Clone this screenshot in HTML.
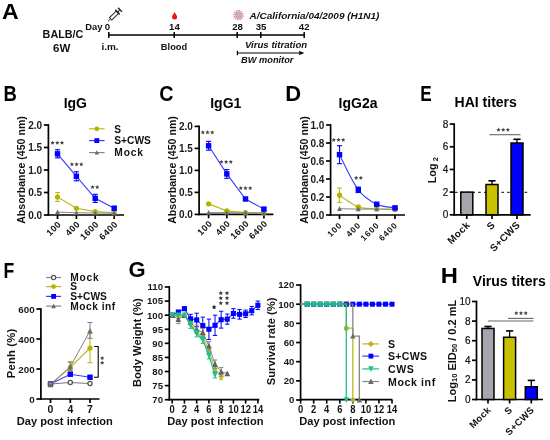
<!DOCTYPE html>
<html><head><meta charset="utf-8"><style>
html,body{margin:0;padding:0;background:#fff;}
svg{display:block;filter:blur(0.3px);}
text{font-family:"Liberation Sans", sans-serif;}
</style></head><body>
<svg width="550" height="440" viewBox="0 0 550 440">
<rect width="550" height="440" fill="#fff"/>
<text x="0.00" y="0.00" font-size="22" font-weight="bold" text-anchor="start" fill="#000" transform="translate(1.90 19.00) scale(1.05 1)">A</text>
<text x="0.00" y="0.00" font-size="10.5" font-weight="bold" text-anchor="start" fill="#111" transform="translate(42.60 37.50) scale(1.03 1)">BALB/C</text>
<text x="0.00" y="0.00" font-size="10.5" font-weight="bold" text-anchor="start" fill="#111" transform="translate(53.00 51.70) scale(1.1 1)">6W</text>
<text x="0.00" y="0.00" font-size="9" font-weight="bold" text-anchor="start" fill="#111" transform="translate(85.20 29.60) scale(1.05 1)">Day</text>
<line x1="108.80" y1="35.00" x2="304.20" y2="35.00" stroke="#000" stroke-width="1.5"/>
<line x1="108.80" y1="32.00" x2="108.80" y2="38.00" stroke="#000" stroke-width="1.5"/>
<text x="0.00" y="0.00" font-size="9.2" font-weight="bold" text-anchor="middle" fill="#111" transform="translate(107.50 29.60) scale(1.05 1)">0</text>
<line x1="174.20" y1="32.00" x2="174.20" y2="38.00" stroke="#000" stroke-width="1.5"/>
<text x="0.00" y="0.00" font-size="9.2" font-weight="bold" text-anchor="middle" fill="#111" transform="translate(174.40 29.60) scale(1.05 1)">14</text>
<line x1="237.20" y1="32.00" x2="237.20" y2="38.00" stroke="#000" stroke-width="1.5"/>
<text x="0.00" y="0.00" font-size="9.2" font-weight="bold" text-anchor="middle" fill="#111" transform="translate(237.50 29.60) scale(1.05 1)">28</text>
<line x1="260.80" y1="32.00" x2="260.80" y2="38.00" stroke="#000" stroke-width="1.5"/>
<text x="0.00" y="0.00" font-size="9.2" font-weight="bold" text-anchor="middle" fill="#111" transform="translate(261.00 29.60) scale(1.05 1)">35</text>
<line x1="304.20" y1="32.00" x2="304.20" y2="38.00" stroke="#000" stroke-width="1.5"/>
<text x="0.00" y="0.00" font-size="9.2" font-weight="bold" text-anchor="middle" fill="#111" transform="translate(304.20 29.60) scale(1.05 1)">42</text>
<text x="0.00" y="0.00" font-size="9.5" font-weight="bold" text-anchor="middle" fill="#111" transform="translate(110.00 49.50) scale(1.05 1)">i.m.</text>
<text x="174.00" y="49.50" font-size="9.3" font-weight="bold" text-anchor="middle" fill="#111">Blood</text>
<text x="0.00" y="0.00" font-size="9" font-weight="bold" text-anchor="start" fill="#111" font-style="italic" transform="translate(245.00 48.10) scale(1.07 1)">Virus titration</text>
<line x1="237.40" y1="53.00" x2="300.00" y2="53.00" stroke="#000" stroke-width="1.0"/>
<line x1="237.40" y1="50.70" x2="237.40" y2="55.30" stroke="#000" stroke-width="1.2"/>
<polygon points="304.4,53 298.6,50.7 299.8,53 298.6,55.3" fill="#000"/>
<text x="0.00" y="0.00" font-size="9" font-weight="bold" text-anchor="start" fill="#111" font-style="italic" transform="translate(241.00 63.00) scale(1.03 1)">BW monitor</text>
<text x="0.00" y="0.00" font-size="9.3" font-weight="bold" text-anchor="start" fill="#111" font-style="italic" transform="translate(249.60 18.60) scale(1.075 1)">A/California/04/2009 (H1N1)</text>
<g transform="translate(114.2 15.35) rotate(-43.8)" stroke="#2a2a2a" fill="none"><line x1="-8.4" y1="0" x2="-5.0" y2="0" stroke-width="0.9"/><rect x="-5.0" y="-1.65" width="9.4" height="3.3" stroke-width="1.0"/><line x1="4.6" y1="-3.1" x2="4.6" y2="3.1" stroke-width="1.6"/><line x1="4.6" y1="0" x2="7.6" y2="0" stroke-width="1.1"/><line x1="8.0" y1="-2.8" x2="8.0" y2="2.8" stroke-width="1.5"/></g>
<path d="M174.6,12.0 C175.3,13.9 177.1,15.3 177.1,16.9 A2.5,2.5 0 0 1 172.1,16.9 C172.1,15.3 173.9,13.9 174.6,12.0 Z" fill="#e8141c"/>
<g><circle cx="238.45" cy="15.2" r="3.6" fill="#c9b9b2"/><line x1="241.42" y1="15.65" x2="243.00" y2="15.89" stroke="#c0a8a8" stroke-width="0.8"/><circle cx="243.10" cy="15.90" r="0.75" fill="#ec6a8e"/><line x1="240.79" y1="17.07" x2="242.05" y2="18.07" stroke="#c0a8a8" stroke-width="0.8"/><circle cx="242.12" cy="18.13" r="0.75" fill="#ec6a8e"/><line x1="239.54" y1="17.99" x2="240.13" y2="19.48" stroke="#c0a8a8" stroke-width="0.8"/><circle cx="240.17" cy="19.58" r="0.75" fill="#ec6a8e"/><line x1="238.00" y1="18.17" x2="237.76" y2="19.75" stroke="#c0a8a8" stroke-width="0.8"/><circle cx="237.75" cy="19.85" r="0.75" fill="#ec6a8e"/><line x1="236.58" y1="17.54" x2="235.58" y2="18.80" stroke="#c0a8a8" stroke-width="0.8"/><circle cx="235.52" cy="18.87" r="0.75" fill="#ec6a8e"/><line x1="235.66" y1="16.29" x2="234.17" y2="16.88" stroke="#c0a8a8" stroke-width="0.8"/><circle cx="234.07" cy="16.92" r="0.75" fill="#ec6a8e"/><line x1="235.48" y1="14.75" x2="233.90" y2="14.51" stroke="#c0a8a8" stroke-width="0.8"/><circle cx="233.80" cy="14.50" r="0.75" fill="#ec6a8e"/><line x1="236.11" y1="13.33" x2="234.85" y2="12.33" stroke="#c0a8a8" stroke-width="0.8"/><circle cx="234.78" cy="12.27" r="0.75" fill="#ec6a8e"/><line x1="237.36" y1="12.41" x2="236.77" y2="10.92" stroke="#c0a8a8" stroke-width="0.8"/><circle cx="236.73" cy="10.82" r="0.75" fill="#ec6a8e"/><line x1="238.90" y1="12.23" x2="239.14" y2="10.65" stroke="#c0a8a8" stroke-width="0.8"/><circle cx="239.15" cy="10.55" r="0.75" fill="#ec6a8e"/><line x1="240.32" y1="12.86" x2="241.32" y2="11.60" stroke="#c0a8a8" stroke-width="0.8"/><circle cx="241.38" cy="11.53" r="0.75" fill="#ec6a8e"/><line x1="241.24" y1="14.11" x2="242.73" y2="13.52" stroke="#c0a8a8" stroke-width="0.8"/><circle cx="242.83" cy="13.48" r="0.75" fill="#ec6a8e"/><circle cx="240.38" cy="16.25" r="0.55" fill="#e27090"/><circle cx="238.50" cy="17.40" r="0.55" fill="#e27090"/><circle cx="236.57" cy="16.34" r="0.55" fill="#e27090"/><circle cx="236.52" cy="14.15" r="0.55" fill="#e27090"/><circle cx="238.40" cy="13.00" r="0.55" fill="#e27090"/><circle cx="240.33" cy="14.06" r="0.55" fill="#e27090"/></g>
<text x="0.00" y="0.00" font-size="22" font-weight="bold" text-anchor="start" fill="#000" transform="translate(3.50 101.00) scale(0.84 1)">B</text>
<text x="75.30" y="108.00" font-size="14" font-weight="bold" text-anchor="middle" fill="#000">IgG</text>
<text x="0.00" y="0.00" font-size="10.6" font-weight="bold" text-anchor="middle" fill="#111" transform="translate(25.00 170.00) rotate(-90)">Absorbance (450 nm)</text>
<line x1="48.40" y1="124.15" x2="48.40" y2="215.85" stroke="#000" stroke-width="1.7"/>
<line x1="43.90" y1="215.00" x2="48.40" y2="215.00" stroke="#000" stroke-width="1.7"/>
<text x="42.10" y="218.60" font-size="10" font-weight="bold" text-anchor="end" fill="#1a1a1a">0.0</text>
<line x1="43.90" y1="192.50" x2="48.40" y2="192.50" stroke="#000" stroke-width="1.7"/>
<text x="42.10" y="196.10" font-size="10" font-weight="bold" text-anchor="end" fill="#1a1a1a">0.5</text>
<line x1="43.90" y1="170.00" x2="48.40" y2="170.00" stroke="#000" stroke-width="1.7"/>
<text x="42.10" y="173.60" font-size="10" font-weight="bold" text-anchor="end" fill="#1a1a1a">1.0</text>
<line x1="43.90" y1="147.50" x2="48.40" y2="147.50" stroke="#000" stroke-width="1.7"/>
<text x="42.10" y="151.10" font-size="10" font-weight="bold" text-anchor="end" fill="#1a1a1a">1.5</text>
<line x1="43.90" y1="125.00" x2="48.40" y2="125.00" stroke="#000" stroke-width="1.7"/>
<text x="42.10" y="128.60" font-size="10" font-weight="bold" text-anchor="end" fill="#1a1a1a">2.0</text>
<line x1="47.55" y1="215.00" x2="124.00" y2="215.00" stroke="#000" stroke-width="1.7"/>
<line x1="57.50" y1="215.00" x2="57.50" y2="219.00" stroke="#000" stroke-width="1.7"/>
<line x1="76.40" y1="215.00" x2="76.40" y2="219.00" stroke="#000" stroke-width="1.7"/>
<line x1="95.20" y1="215.00" x2="95.20" y2="219.00" stroke="#000" stroke-width="1.7"/>
<line x1="114.20" y1="215.00" x2="114.20" y2="219.00" stroke="#000" stroke-width="1.7"/>
<text x="0.00" y="0.00" font-size="9.0" font-weight="bold" text-anchor="end" fill="#111" letter-spacing="0.5" transform="translate(61.70 224.80) rotate(-45)">100</text>
<text x="0.00" y="0.00" font-size="9.0" font-weight="bold" text-anchor="end" fill="#111" letter-spacing="0.5" transform="translate(80.60 224.80) rotate(-45)">400</text>
<text x="0.00" y="0.00" font-size="9.0" font-weight="bold" text-anchor="end" fill="#111" letter-spacing="0.5" transform="translate(99.40 224.80) rotate(-45)">1600</text>
<text x="0.00" y="0.00" font-size="9.0" font-weight="bold" text-anchor="end" fill="#111" letter-spacing="0.5" transform="translate(118.40 224.80) rotate(-45)">6400</text>
<polyline points="57.50,197.00 76.40,208.25 95.20,211.62 114.20,212.53" fill="none" stroke="#baba1c" stroke-width="1.15"/>
<line x1="57.50" y1="192.50" x2="57.50" y2="201.50" stroke="#baba1c" stroke-width="1.1"/>
<line x1="55.10" y1="192.50" x2="59.90" y2="192.50" stroke="#baba1c" stroke-width="1.1"/>
<line x1="55.10" y1="201.50" x2="59.90" y2="201.50" stroke="#baba1c" stroke-width="1.1"/>
<circle cx="57.50" cy="197.00" r="2.60" fill="#b4b400"/>
<line x1="76.40" y1="207.35" x2="76.40" y2="209.15" stroke="#baba1c" stroke-width="1.1"/>
<line x1="74.00" y1="207.35" x2="78.80" y2="207.35" stroke="#baba1c" stroke-width="1.1"/>
<line x1="74.00" y1="209.15" x2="78.80" y2="209.15" stroke="#baba1c" stroke-width="1.1"/>
<circle cx="76.40" cy="208.25" r="2.60" fill="#b4b400"/>
<line x1="95.20" y1="211.18" x2="95.20" y2="212.07" stroke="#baba1c" stroke-width="1.1"/>
<line x1="92.80" y1="211.18" x2="97.60" y2="211.18" stroke="#baba1c" stroke-width="1.1"/>
<line x1="92.80" y1="212.07" x2="97.60" y2="212.07" stroke="#baba1c" stroke-width="1.1"/>
<circle cx="95.20" cy="211.62" r="2.60" fill="#b4b400"/>
<circle cx="114.20" cy="212.53" r="2.60" fill="#b4b400"/>
<polyline points="57.50,212.07 76.40,212.75 95.20,212.97 114.20,213.20" fill="none" stroke="#858585" stroke-width="1.0"/>
<polygon points="57.50,209.47 59.90,214.27 55.10,214.27" fill="#6a6a6a"/>
<polygon points="76.40,210.15 78.80,214.95 74.00,214.95" fill="#6a6a6a"/>
<polygon points="95.20,210.38 97.60,215.17 92.80,215.17" fill="#6a6a6a"/>
<polygon points="114.20,210.60 116.60,215.40 111.80,215.40" fill="#6a6a6a"/>
<polyline points="57.50,153.80 76.40,176.30 95.20,198.35 114.20,208.25" fill="none" stroke="#3a3aff" stroke-width="1.1"/>
<line x1="57.50" y1="149.75" x2="57.50" y2="157.85" stroke="#0000ff" stroke-width="1.1"/>
<line x1="54.90" y1="149.75" x2="60.10" y2="149.75" stroke="#0000ff" stroke-width="1.1"/>
<line x1="54.90" y1="157.85" x2="60.10" y2="157.85" stroke="#0000ff" stroke-width="1.1"/>
<rect x="54.80" y="151.10" width="5.40" height="5.40" fill="#0000ff" stroke="none" stroke-width="0"/>
<line x1="76.40" y1="171.80" x2="76.40" y2="180.80" stroke="#0000ff" stroke-width="1.1"/>
<line x1="73.80" y1="171.80" x2="79.00" y2="171.80" stroke="#0000ff" stroke-width="1.1"/>
<line x1="73.80" y1="180.80" x2="79.00" y2="180.80" stroke="#0000ff" stroke-width="1.1"/>
<rect x="73.70" y="173.60" width="5.40" height="5.40" fill="#0000ff" stroke="none" stroke-width="0"/>
<line x1="95.20" y1="194.30" x2="95.20" y2="202.40" stroke="#0000ff" stroke-width="1.1"/>
<line x1="92.60" y1="194.30" x2="97.80" y2="194.30" stroke="#0000ff" stroke-width="1.1"/>
<line x1="92.60" y1="202.40" x2="97.80" y2="202.40" stroke="#0000ff" stroke-width="1.1"/>
<rect x="92.50" y="195.65" width="5.40" height="5.40" fill="#0000ff" stroke="none" stroke-width="0"/>
<line x1="114.20" y1="206.45" x2="114.20" y2="210.05" stroke="#0000ff" stroke-width="1.1"/>
<line x1="111.60" y1="206.45" x2="116.80" y2="206.45" stroke="#0000ff" stroke-width="1.1"/>
<line x1="111.60" y1="210.05" x2="116.80" y2="210.05" stroke="#0000ff" stroke-width="1.1"/>
<rect x="111.50" y="205.55" width="5.40" height="5.40" fill="#0000ff" stroke="none" stroke-width="0"/>
<polygon points="52.60,140.60 53.25,141.91 54.69,142.12 53.65,143.14 53.89,144.58 52.60,143.90 51.31,144.58 51.55,143.14 50.51,142.12 51.95,141.91" fill="#484848"/>
<polygon points="57.30,140.60 57.95,141.91 59.39,142.12 58.35,143.14 58.59,144.58 57.30,143.90 56.01,144.58 56.25,143.14 55.21,142.12 56.65,141.91" fill="#484848"/>
<polygon points="62.00,140.60 62.65,141.91 64.09,142.12 63.05,143.14 63.29,144.58 62.00,143.90 60.71,144.58 60.95,143.14 59.91,142.12 61.35,141.91" fill="#484848"/>
<polygon points="71.90,162.10 72.55,163.41 73.99,163.62 72.95,164.64 73.19,166.08 71.90,165.40 70.61,166.08 70.85,164.64 69.81,163.62 71.25,163.41" fill="#484848"/>
<polygon points="76.60,162.10 77.25,163.41 78.69,163.62 77.65,164.64 77.89,166.08 76.60,165.40 75.31,166.08 75.55,164.64 74.51,163.62 75.95,163.41" fill="#484848"/>
<polygon points="81.30,162.10 81.95,163.41 83.39,163.62 82.35,164.64 82.59,166.08 81.30,165.40 80.01,166.08 80.25,164.64 79.21,163.62 80.65,163.41" fill="#484848"/>
<polygon points="92.55,185.00 93.20,186.31 94.64,186.52 93.60,187.54 93.84,188.98 92.55,188.30 91.26,188.98 91.50,187.54 90.46,186.52 91.90,186.31" fill="#484848"/>
<polygon points="97.25,185.00 97.90,186.31 99.34,186.52 98.30,187.54 98.54,188.98 97.25,188.30 95.96,188.98 96.20,187.54 95.16,186.52 96.60,186.31" fill="#484848"/>
<line x1="89.00" y1="128.80" x2="104.60" y2="128.80" stroke="#baba1c" stroke-width="1.2"/>
<circle cx="96.80" cy="128.80" r="2.40" fill="#b4b400"/>
<text x="114.30" y="132.50" font-size="10.2" font-weight="bold" text-anchor="start" fill="#111">S</text>
<line x1="89.00" y1="140.60" x2="104.60" y2="140.60" stroke="#3a3aff" stroke-width="1.2"/>
<rect x="94.40" y="138.20" width="4.80" height="4.80" fill="#0000ff" stroke="none" stroke-width="0"/>
<text x="114.30" y="144.30" font-size="10.2" font-weight="bold" text-anchor="start" fill="#111">S+CWS</text>
<line x1="89.00" y1="152.60" x2="104.60" y2="152.60" stroke="#858585" stroke-width="1.2"/>
<polygon points="96.80,150.20 99.00,154.60 94.60,154.60" fill="#6a6a6a"/>
<text x="114.30" y="156.30" font-size="10.2" font-weight="bold" text-anchor="start" fill="#111" letter-spacing="0.9">Mock</text>
<text x="0.00" y="0.00" font-size="22" font-weight="bold" text-anchor="start" fill="#000" transform="translate(159.30 101.00) scale(0.9 1)">C</text>
<text x="225.80" y="108.00" font-size="14" font-weight="bold" text-anchor="middle" fill="#000">IgG1</text>
<text x="0.00" y="0.00" font-size="10.6" font-weight="bold" text-anchor="middle" fill="#111" transform="translate(176.40 170.00) rotate(-90)">Absorbance (450 nm)</text>
<line x1="199.10" y1="125.55" x2="199.10" y2="215.25" stroke="#000" stroke-width="1.7"/>
<line x1="194.60" y1="214.40" x2="199.10" y2="214.40" stroke="#000" stroke-width="1.7"/>
<text x="192.80" y="218.00" font-size="10" font-weight="bold" text-anchor="end" fill="#1a1a1a">0.0</text>
<line x1="194.60" y1="192.40" x2="199.10" y2="192.40" stroke="#000" stroke-width="1.7"/>
<text x="192.80" y="196.00" font-size="10" font-weight="bold" text-anchor="end" fill="#1a1a1a">0.5</text>
<line x1="194.60" y1="170.40" x2="199.10" y2="170.40" stroke="#000" stroke-width="1.7"/>
<text x="192.80" y="174.00" font-size="10" font-weight="bold" text-anchor="end" fill="#1a1a1a">1.0</text>
<line x1="194.60" y1="148.40" x2="199.10" y2="148.40" stroke="#000" stroke-width="1.7"/>
<text x="192.80" y="152.00" font-size="10" font-weight="bold" text-anchor="end" fill="#1a1a1a">1.5</text>
<line x1="194.60" y1="126.40" x2="199.10" y2="126.40" stroke="#000" stroke-width="1.7"/>
<text x="192.80" y="130.00" font-size="10" font-weight="bold" text-anchor="end" fill="#1a1a1a">2.0</text>
<line x1="198.25" y1="214.40" x2="273.40" y2="214.40" stroke="#000" stroke-width="1.7"/>
<line x1="208.60" y1="214.40" x2="208.60" y2="218.40" stroke="#000" stroke-width="1.7"/>
<line x1="226.80" y1="214.40" x2="226.80" y2="218.40" stroke="#000" stroke-width="1.7"/>
<line x1="245.50" y1="214.40" x2="245.50" y2="218.40" stroke="#000" stroke-width="1.7"/>
<line x1="263.90" y1="214.40" x2="263.90" y2="218.40" stroke="#000" stroke-width="1.7"/>
<text x="0.00" y="0.00" font-size="9.0" font-weight="bold" text-anchor="end" fill="#111" letter-spacing="0.5" transform="translate(212.80 224.20) rotate(-45)">100</text>
<text x="0.00" y="0.00" font-size="9.0" font-weight="bold" text-anchor="end" fill="#111" letter-spacing="0.5" transform="translate(231.00 224.20) rotate(-45)">400</text>
<text x="0.00" y="0.00" font-size="9.0" font-weight="bold" text-anchor="end" fill="#111" letter-spacing="0.5" transform="translate(249.70 224.20) rotate(-45)">1600</text>
<text x="0.00" y="0.00" font-size="9.0" font-weight="bold" text-anchor="end" fill="#111" letter-spacing="0.5" transform="translate(268.10 224.20) rotate(-45)">6400</text>
<polyline points="208.60,203.84 226.80,210.88 245.50,212.64 263.90,213.08" fill="none" stroke="#baba1c" stroke-width="1.15"/>
<line x1="208.60" y1="202.96" x2="208.60" y2="204.72" stroke="#baba1c" stroke-width="1.1"/>
<line x1="206.20" y1="202.96" x2="211.00" y2="202.96" stroke="#baba1c" stroke-width="1.1"/>
<line x1="206.20" y1="204.72" x2="211.00" y2="204.72" stroke="#baba1c" stroke-width="1.1"/>
<circle cx="208.60" cy="203.84" r="2.60" fill="#b4b400"/>
<line x1="226.80" y1="210.44" x2="226.80" y2="211.32" stroke="#baba1c" stroke-width="1.1"/>
<line x1="224.40" y1="210.44" x2="229.20" y2="210.44" stroke="#baba1c" stroke-width="1.1"/>
<line x1="224.40" y1="211.32" x2="229.20" y2="211.32" stroke="#baba1c" stroke-width="1.1"/>
<circle cx="226.80" cy="210.88" r="2.60" fill="#b4b400"/>
<circle cx="245.50" cy="212.64" r="2.60" fill="#b4b400"/>
<circle cx="263.90" cy="213.08" r="2.60" fill="#b4b400"/>
<polyline points="208.60,212.64 226.80,212.64 245.50,212.86 263.90,212.86" fill="none" stroke="#858585" stroke-width="1.0"/>
<polygon points="208.60,210.04 211.00,214.84 206.20,214.84" fill="#6a6a6a"/>
<polygon points="226.80,210.04 229.20,214.84 224.40,214.84" fill="#6a6a6a"/>
<polygon points="245.50,210.26 247.90,215.06 243.10,215.06" fill="#6a6a6a"/>
<polygon points="263.90,210.26 266.30,215.06 261.50,215.06" fill="#6a6a6a"/>
<polyline points="208.60,145.76 226.80,173.92 245.50,199.00 263.90,209.12" fill="none" stroke="#3a3aff" stroke-width="1.1"/>
<line x1="208.60" y1="141.36" x2="208.60" y2="150.16" stroke="#0000ff" stroke-width="1.1"/>
<line x1="206.00" y1="141.36" x2="211.20" y2="141.36" stroke="#0000ff" stroke-width="1.1"/>
<line x1="206.00" y1="150.16" x2="211.20" y2="150.16" stroke="#0000ff" stroke-width="1.1"/>
<rect x="205.90" y="143.06" width="5.40" height="5.40" fill="#0000ff" stroke="none" stroke-width="0"/>
<line x1="226.80" y1="169.52" x2="226.80" y2="178.32" stroke="#0000ff" stroke-width="1.1"/>
<line x1="224.20" y1="169.52" x2="229.40" y2="169.52" stroke="#0000ff" stroke-width="1.1"/>
<line x1="224.20" y1="178.32" x2="229.40" y2="178.32" stroke="#0000ff" stroke-width="1.1"/>
<rect x="224.10" y="171.22" width="5.40" height="5.40" fill="#0000ff" stroke="none" stroke-width="0"/>
<line x1="245.50" y1="197.68" x2="245.50" y2="200.32" stroke="#0000ff" stroke-width="1.1"/>
<line x1="242.90" y1="197.68" x2="248.10" y2="197.68" stroke="#0000ff" stroke-width="1.1"/>
<line x1="242.90" y1="200.32" x2="248.10" y2="200.32" stroke="#0000ff" stroke-width="1.1"/>
<rect x="242.80" y="196.30" width="5.40" height="5.40" fill="#0000ff" stroke="none" stroke-width="0"/>
<line x1="263.90" y1="207.80" x2="263.90" y2="210.44" stroke="#0000ff" stroke-width="1.1"/>
<line x1="261.30" y1="207.80" x2="266.50" y2="207.80" stroke="#0000ff" stroke-width="1.1"/>
<line x1="261.30" y1="210.44" x2="266.50" y2="210.44" stroke="#0000ff" stroke-width="1.1"/>
<rect x="261.20" y="206.42" width="5.40" height="5.40" fill="#0000ff" stroke="none" stroke-width="0"/>
<polygon points="202.80,130.30 203.45,131.61 204.89,131.82 203.85,132.84 204.09,134.28 202.80,133.60 201.51,134.28 201.75,132.84 200.71,131.82 202.15,131.61" fill="#484848"/>
<polygon points="207.50,130.30 208.15,131.61 209.59,131.82 208.55,132.84 208.79,134.28 207.50,133.60 206.21,134.28 206.45,132.84 205.41,131.82 206.85,131.61" fill="#484848"/>
<polygon points="212.20,130.30 212.85,131.61 214.29,131.82 213.25,132.84 213.49,134.28 212.20,133.60 210.91,134.28 211.15,132.84 210.11,131.82 211.55,131.61" fill="#484848"/>
<polygon points="221.40,159.80 222.05,161.11 223.49,161.32 222.45,162.34 222.69,163.78 221.40,163.10 220.11,163.78 220.35,162.34 219.31,161.32 220.75,161.11" fill="#484848"/>
<polygon points="226.10,159.80 226.75,161.11 228.19,161.32 227.15,162.34 227.39,163.78 226.10,163.10 224.81,163.78 225.05,162.34 224.01,161.32 225.45,161.11" fill="#484848"/>
<polygon points="230.80,159.80 231.45,161.11 232.89,161.32 231.85,162.34 232.09,163.78 230.80,163.10 229.51,163.78 229.75,162.34 228.71,161.32 230.15,161.11" fill="#484848"/>
<polygon points="240.80,186.00 241.45,187.31 242.89,187.52 241.85,188.54 242.09,189.98 240.80,189.30 239.51,189.98 239.75,188.54 238.71,187.52 240.15,187.31" fill="#484848"/>
<polygon points="245.50,186.00 246.15,187.31 247.59,187.52 246.55,188.54 246.79,189.98 245.50,189.30 244.21,189.98 244.45,188.54 243.41,187.52 244.85,187.31" fill="#484848"/>
<polygon points="250.20,186.00 250.85,187.31 252.29,187.52 251.25,188.54 251.49,189.98 250.20,189.30 248.91,189.98 249.15,188.54 248.11,187.52 249.55,187.31" fill="#484848"/>
<text x="0.00" y="0.00" font-size="22" font-weight="bold" text-anchor="start" fill="#000" transform="translate(285.20 101.00) scale(1.0 1)">D</text>
<text x="358.00" y="108.00" font-size="14" font-weight="bold" text-anchor="middle" fill="#000">IgG2a</text>
<text x="0.00" y="0.00" font-size="10.6" font-weight="bold" text-anchor="middle" fill="#111" transform="translate(307.60 170.00) rotate(-90)">Absorbance (450 nm)</text>
<line x1="330.60" y1="124.15" x2="330.60" y2="215.85" stroke="#000" stroke-width="1.7"/>
<line x1="326.10" y1="215.00" x2="330.60" y2="215.00" stroke="#000" stroke-width="1.7"/>
<text x="324.30" y="218.60" font-size="10" font-weight="bold" text-anchor="end" fill="#1a1a1a">0.0</text>
<line x1="326.10" y1="197.00" x2="330.60" y2="197.00" stroke="#000" stroke-width="1.7"/>
<text x="324.30" y="200.60" font-size="10" font-weight="bold" text-anchor="end" fill="#1a1a1a">0.2</text>
<line x1="326.10" y1="179.00" x2="330.60" y2="179.00" stroke="#000" stroke-width="1.7"/>
<text x="324.30" y="182.60" font-size="10" font-weight="bold" text-anchor="end" fill="#1a1a1a">0.4</text>
<line x1="326.10" y1="161.00" x2="330.60" y2="161.00" stroke="#000" stroke-width="1.7"/>
<text x="324.30" y="164.60" font-size="10" font-weight="bold" text-anchor="end" fill="#1a1a1a">0.6</text>
<line x1="326.10" y1="143.00" x2="330.60" y2="143.00" stroke="#000" stroke-width="1.7"/>
<text x="324.30" y="146.60" font-size="10" font-weight="bold" text-anchor="end" fill="#1a1a1a">0.8</text>
<line x1="326.10" y1="125.00" x2="330.60" y2="125.00" stroke="#000" stroke-width="1.7"/>
<text x="324.30" y="128.60" font-size="10" font-weight="bold" text-anchor="end" fill="#1a1a1a">1.0</text>
<line x1="329.75" y1="215.00" x2="405.00" y2="215.00" stroke="#000" stroke-width="1.7"/>
<line x1="339.50" y1="215.00" x2="339.50" y2="219.00" stroke="#000" stroke-width="1.7"/>
<line x1="358.30" y1="215.00" x2="358.30" y2="219.00" stroke="#000" stroke-width="1.7"/>
<line x1="376.70" y1="215.00" x2="376.70" y2="219.00" stroke="#000" stroke-width="1.7"/>
<line x1="395.00" y1="215.00" x2="395.00" y2="219.00" stroke="#000" stroke-width="1.7"/>
<text x="0.00" y="0.00" font-size="8.4" font-weight="bold" text-anchor="end" fill="#111" letter-spacing="1.0" transform="translate(342.80 225.50) rotate(-45)">100</text>
<text x="0.00" y="0.00" font-size="8.4" font-weight="bold" text-anchor="end" fill="#111" letter-spacing="1.0" transform="translate(361.60 225.50) rotate(-45)">400</text>
<text x="0.00" y="0.00" font-size="8.4" font-weight="bold" text-anchor="end" fill="#111" letter-spacing="1.0" transform="translate(380.00 225.50) rotate(-45)">1600</text>
<text x="0.00" y="0.00" font-size="8.4" font-weight="bold" text-anchor="end" fill="#111" letter-spacing="1.0" transform="translate(398.30 225.50) rotate(-45)">6400</text>
<path d="M339.50,195.20 C342.63,197.15 352.10,204.65 358.30,206.90 C364.50,209.15 370.58,208.25 376.70,208.70 C382.82,209.15 391.95,209.45 395.00,209.60" fill="none" stroke="#baba1c" stroke-width="1.15"/>
<line x1="339.50" y1="188.00" x2="339.50" y2="202.40" stroke="#baba1c" stroke-width="1.1"/>
<line x1="337.10" y1="188.00" x2="341.90" y2="188.00" stroke="#baba1c" stroke-width="1.1"/>
<line x1="337.10" y1="202.40" x2="341.90" y2="202.40" stroke="#baba1c" stroke-width="1.1"/>
<circle cx="339.50" cy="195.20" r="2.60" fill="#b4b400"/>
<line x1="358.30" y1="206.00" x2="358.30" y2="207.80" stroke="#baba1c" stroke-width="1.1"/>
<line x1="355.90" y1="206.00" x2="360.70" y2="206.00" stroke="#baba1c" stroke-width="1.1"/>
<line x1="355.90" y1="207.80" x2="360.70" y2="207.80" stroke="#baba1c" stroke-width="1.1"/>
<circle cx="358.30" cy="206.90" r="2.60" fill="#b4b400"/>
<line x1="376.70" y1="207.80" x2="376.70" y2="209.60" stroke="#baba1c" stroke-width="1.1"/>
<line x1="374.30" y1="207.80" x2="379.10" y2="207.80" stroke="#baba1c" stroke-width="1.1"/>
<line x1="374.30" y1="209.60" x2="379.10" y2="209.60" stroke="#baba1c" stroke-width="1.1"/>
<circle cx="376.70" cy="208.70" r="2.60" fill="#b4b400"/>
<circle cx="395.00" cy="209.60" r="2.60" fill="#b4b400"/>
<polyline points="339.50,208.70 358.30,209.15 376.70,209.15 395.00,209.15" fill="none" stroke="#858585" stroke-width="1.0"/>
<polygon points="339.50,206.10 341.90,210.90 337.10,210.90" fill="#6a6a6a"/>
<polygon points="358.30,206.55 360.70,211.35 355.90,211.35" fill="#6a6a6a"/>
<polygon points="376.70,206.55 379.10,211.35 374.30,211.35" fill="#6a6a6a"/>
<polygon points="395.00,206.55 397.40,211.35 392.60,211.35" fill="#6a6a6a"/>
<path d="M339.50,154.70 C342.63,160.55 352.10,181.55 358.30,189.80 C364.50,198.05 370.58,201.20 376.70,204.20 C382.82,207.20 391.95,207.20 395.00,207.80" fill="none" stroke="#3a3aff" stroke-width="1.1"/>
<line x1="339.50" y1="145.70" x2="339.50" y2="163.70" stroke="#0000ff" stroke-width="1.1"/>
<line x1="336.90" y1="145.70" x2="342.10" y2="145.70" stroke="#0000ff" stroke-width="1.1"/>
<line x1="336.90" y1="163.70" x2="342.10" y2="163.70" stroke="#0000ff" stroke-width="1.1"/>
<rect x="336.80" y="152.00" width="5.40" height="5.40" fill="#0000ff" stroke="none" stroke-width="0"/>
<line x1="358.30" y1="187.10" x2="358.30" y2="192.50" stroke="#0000ff" stroke-width="1.1"/>
<line x1="355.70" y1="187.10" x2="360.90" y2="187.10" stroke="#0000ff" stroke-width="1.1"/>
<line x1="355.70" y1="192.50" x2="360.90" y2="192.50" stroke="#0000ff" stroke-width="1.1"/>
<rect x="355.60" y="187.10" width="5.40" height="5.40" fill="#0000ff" stroke="none" stroke-width="0"/>
<line x1="376.70" y1="203.30" x2="376.70" y2="205.10" stroke="#0000ff" stroke-width="1.1"/>
<line x1="374.10" y1="203.30" x2="379.30" y2="203.30" stroke="#0000ff" stroke-width="1.1"/>
<line x1="374.10" y1="205.10" x2="379.30" y2="205.10" stroke="#0000ff" stroke-width="1.1"/>
<rect x="374.00" y="201.50" width="5.40" height="5.40" fill="#0000ff" stroke="none" stroke-width="0"/>
<line x1="395.00" y1="206.90" x2="395.00" y2="208.70" stroke="#0000ff" stroke-width="1.1"/>
<line x1="392.40" y1="206.90" x2="397.60" y2="206.90" stroke="#0000ff" stroke-width="1.1"/>
<line x1="392.40" y1="208.70" x2="397.60" y2="208.70" stroke="#0000ff" stroke-width="1.1"/>
<rect x="392.30" y="205.10" width="5.40" height="5.40" fill="#0000ff" stroke="none" stroke-width="0"/>
<polygon points="333.80,137.80 334.45,139.11 335.89,139.32 334.85,140.34 335.09,141.78 333.80,141.10 332.51,141.78 332.75,140.34 331.71,139.32 333.15,139.11" fill="#484848"/>
<polygon points="338.50,137.80 339.15,139.11 340.59,139.32 339.55,140.34 339.79,141.78 338.50,141.10 337.21,141.78 337.45,140.34 336.41,139.32 337.85,139.11" fill="#484848"/>
<polygon points="343.20,137.80 343.85,139.11 345.29,139.32 344.25,140.34 344.49,141.78 343.20,141.10 341.91,141.78 342.15,140.34 341.11,139.32 342.55,139.11" fill="#484848"/>
<polygon points="356.15,175.80 356.80,177.11 358.24,177.32 357.20,178.34 357.44,179.78 356.15,179.10 354.86,179.78 355.10,178.34 354.06,177.32 355.50,177.11" fill="#484848"/>
<polygon points="360.85,175.80 361.50,177.11 362.94,177.32 361.90,178.34 362.14,179.78 360.85,179.10 359.56,179.78 359.80,178.34 358.76,177.32 360.20,177.11" fill="#484848"/>
<text x="0.00" y="0.00" font-size="22" font-weight="bold" text-anchor="start" fill="#000" transform="translate(420.20 100.70) scale(0.78 1)">E</text>
<text x="485.70" y="107.40" font-size="14" font-weight="bold" text-anchor="middle" fill="#000">HAI titers</text>
<line x1="454.20" y1="123.23" x2="454.20" y2="215.65" stroke="#000" stroke-width="1.7"/>
<line x1="449.70" y1="214.80" x2="454.20" y2="214.80" stroke="#000" stroke-width="1.7"/>
<text x="448.20" y="218.30" font-size="10" font-weight="normal" text-anchor="end" fill="#111" stroke="#111" stroke-width="0.2">0</text>
<line x1="449.70" y1="192.12" x2="454.20" y2="192.12" stroke="#000" stroke-width="1.7"/>
<text x="448.20" y="195.62" font-size="10" font-weight="normal" text-anchor="end" fill="#111" stroke="#111" stroke-width="0.2">2</text>
<line x1="449.70" y1="169.44" x2="454.20" y2="169.44" stroke="#000" stroke-width="1.7"/>
<text x="448.20" y="172.94" font-size="10" font-weight="normal" text-anchor="end" fill="#111" stroke="#111" stroke-width="0.2">4</text>
<line x1="449.70" y1="146.76" x2="454.20" y2="146.76" stroke="#000" stroke-width="1.7"/>
<text x="448.20" y="150.26" font-size="10" font-weight="normal" text-anchor="end" fill="#111" stroke="#111" stroke-width="0.2">6</text>
<line x1="449.70" y1="124.08" x2="454.20" y2="124.08" stroke="#000" stroke-width="1.7"/>
<text x="448.20" y="127.58" font-size="10" font-weight="normal" text-anchor="end" fill="#111" stroke="#111" stroke-width="0.2">8</text>
<line x1="453.40" y1="214.80" x2="530.60" y2="214.80" stroke="#000" stroke-width="1.7"/>
<line x1="466.80" y1="214.80" x2="466.80" y2="219.00" stroke="#000" stroke-width="1.7"/>
<line x1="492.00" y1="214.80" x2="492.00" y2="219.00" stroke="#000" stroke-width="1.7"/>
<line x1="517.00" y1="214.80" x2="517.00" y2="219.00" stroke="#000" stroke-width="1.7"/>
<line x1="455.00" y1="192.30" x2="530.00" y2="192.30" stroke="#000" stroke-width="1.0" stroke-dasharray="2.6,3.2"/>
<rect x="460.80" y="192.12" width="12.00" height="22.68" fill="#a5a5ad" stroke="#000" stroke-width="1.5"/>
<line x1="492.00" y1="180.78" x2="492.00" y2="184.52" stroke="#000" stroke-width="1.3"/>
<line x1="488.40" y1="180.78" x2="495.60" y2="180.78" stroke="#000" stroke-width="1.6"/>
<rect x="486.00" y="184.52" width="12.00" height="30.28" fill="#c8c000" stroke="#000" stroke-width="1.5"/>
<line x1="517.00" y1="139.28" x2="517.00" y2="143.02" stroke="#000" stroke-width="1.3"/>
<line x1="513.40" y1="139.28" x2="520.60" y2="139.28" stroke="#000" stroke-width="1.6"/>
<rect x="511.00" y="143.02" width="12.00" height="71.78" fill="#0000ff" stroke="#000" stroke-width="1.5"/>
<line x1="489.50" y1="134.70" x2="520.50" y2="134.70" stroke="#666" stroke-width="1.1"/>
<polygon points="498.50,127.60 499.15,128.91 500.59,129.12 499.55,130.14 499.79,131.58 498.50,130.90 497.21,131.58 497.45,130.14 496.41,129.12 497.85,128.91" fill="#484848"/>
<polygon points="503.20,127.60 503.85,128.91 505.29,129.12 504.25,130.14 504.49,131.58 503.20,130.90 501.91,131.58 502.15,130.14 501.11,129.12 502.55,128.91" fill="#484848"/>
<polygon points="507.90,127.60 508.55,128.91 509.99,129.12 508.95,130.14 509.19,131.58 507.90,130.90 506.61,131.58 506.85,130.14 505.81,129.12 507.25,128.91" fill="#484848"/>
<text x="0.00" y="0.00" font-size="10.8" font-weight="bold" text-anchor="middle" fill="#111" transform="translate(436.00 173.40) rotate(-90)">Log</text>
<text x="0.00" y="0.00" font-size="7.5" font-weight="bold" text-anchor="middle" fill="#111" transform="translate(438.00 159.20) rotate(-90)">2</text>
<text x="0.00" y="0.00" font-size="10" font-weight="bold" text-anchor="end" fill="#111" letter-spacing="0.4" transform="translate(470.60 225.50) rotate(-45)">Mock</text>
<text x="0.00" y="0.00" font-size="10" font-weight="bold" text-anchor="end" fill="#111" letter-spacing="0.4" transform="translate(495.80 225.50) rotate(-45)">S</text>
<text x="0.00" y="0.00" font-size="10" font-weight="bold" text-anchor="end" fill="#111" letter-spacing="0.4" transform="translate(520.80 225.50) rotate(-45)">S+CWS</text>
<text x="0.00" y="0.00" font-size="22" font-weight="bold" text-anchor="start" fill="#000" transform="translate(3.50 277.50) scale(0.8 1)">F</text>
<line x1="40.90" y1="308.15" x2="40.90" y2="399.85" stroke="#000" stroke-width="1.7"/>
<line x1="36.40" y1="399.00" x2="40.90" y2="399.00" stroke="#000" stroke-width="1.7"/>
<text x="34.60" y="402.50" font-size="9.8" font-weight="bold" text-anchor="end" fill="#1a1a1a">0</text>
<line x1="36.40" y1="369.00" x2="40.90" y2="369.00" stroke="#000" stroke-width="1.7"/>
<text x="34.60" y="372.50" font-size="9.8" font-weight="bold" text-anchor="end" fill="#1a1a1a">200</text>
<line x1="36.40" y1="339.00" x2="40.90" y2="339.00" stroke="#000" stroke-width="1.7"/>
<text x="34.60" y="342.50" font-size="9.8" font-weight="bold" text-anchor="end" fill="#1a1a1a">400</text>
<line x1="36.40" y1="309.00" x2="40.90" y2="309.00" stroke="#000" stroke-width="1.7"/>
<text x="34.60" y="312.50" font-size="9.8" font-weight="bold" text-anchor="end" fill="#1a1a1a">600</text>
<line x1="40.10" y1="399.00" x2="99.50" y2="399.00" stroke="#000" stroke-width="1.7"/>
<line x1="50.50" y1="399.00" x2="50.50" y2="403.00" stroke="#000" stroke-width="1.7"/>
<text x="50.50" y="412.80" font-size="10.5" font-weight="bold" text-anchor="middle" fill="#111">0</text>
<line x1="70.30" y1="399.00" x2="70.30" y2="403.00" stroke="#000" stroke-width="1.7"/>
<text x="70.30" y="412.80" font-size="10.5" font-weight="bold" text-anchor="middle" fill="#111">4</text>
<line x1="90.00" y1="399.00" x2="90.00" y2="403.00" stroke="#000" stroke-width="1.7"/>
<text x="90.00" y="412.80" font-size="10.5" font-weight="bold" text-anchor="middle" fill="#111">7</text>
<text x="64.80" y="424.50" font-size="11.1" font-weight="bold" text-anchor="middle" fill="#111">Day post infection</text>
<text x="0.00" y="0.00" font-size="11.2" font-weight="bold" text-anchor="middle" fill="#111" letter-spacing="0.2" transform="translate(14.60 353.40) rotate(-90)">Penh (%)</text>
<polyline points="50.50,384.00 70.30,367.50 90.00,348.00" fill="none" stroke="#baba1c" stroke-width="1.1"/>
<line x1="70.30" y1="361.50" x2="70.30" y2="372.00" stroke="#baba1c" stroke-width="1.0"/>
<line x1="67.90" y1="361.50" x2="72.70" y2="361.50" stroke="#baba1c" stroke-width="1.0"/>
<line x1="67.90" y1="372.00" x2="72.70" y2="372.00" stroke="#baba1c" stroke-width="1.0"/>
<line x1="90.00" y1="333.00" x2="90.00" y2="362.70" stroke="#baba1c" stroke-width="1.1"/>
<line x1="87.40" y1="333.00" x2="92.60" y2="333.00" stroke="#baba1c" stroke-width="1.1"/>
<line x1="87.40" y1="362.70" x2="92.60" y2="362.70" stroke="#baba1c" stroke-width="1.1"/>
<circle cx="50.50" cy="384.00" r="2.60" fill="#b4b400"/>
<circle cx="70.30" cy="367.50" r="2.60" fill="#b4b400"/>
<circle cx="90.00" cy="348.00" r="2.60" fill="#b4b400"/>
<polyline points="50.50,384.00 70.30,374.25 90.00,377.25" fill="none" stroke="#3a3aff" stroke-width="1.1"/>
<rect x="47.80" y="381.30" width="5.40" height="5.40" fill="#0000ff" stroke="none" stroke-width="0"/>
<rect x="67.60" y="371.55" width="5.40" height="5.40" fill="#0000ff" stroke="none" stroke-width="0"/>
<rect x="87.30" y="374.55" width="5.40" height="5.40" fill="#0000ff" stroke="none" stroke-width="0"/>
<polyline points="50.50,384.00 70.30,382.50 90.00,383.55" fill="none" stroke="#777" stroke-width="1.0"/>
<circle cx="50.50" cy="384.00" r="2.1" fill="#fff" stroke="#555" stroke-width="1.3"/>
<circle cx="70.30" cy="382.50" r="2.1" fill="#fff" stroke="#555" stroke-width="1.3"/>
<circle cx="90.00" cy="383.55" r="2.1" fill="#fff" stroke="#555" stroke-width="1.3"/>
<polyline points="50.50,384.75 70.30,366.75 90.00,330.90" fill="none" stroke="#808080" stroke-width="1.0"/>
<line x1="90.00" y1="322.50" x2="90.00" y2="338.25" stroke="#808080" stroke-width="1.0"/>
<line x1="87.40" y1="322.50" x2="92.60" y2="322.50" stroke="#808080" stroke-width="1.0"/>
<line x1="87.40" y1="338.25" x2="92.60" y2="338.25" stroke="#808080" stroke-width="1.0"/>
<line x1="70.30" y1="362.25" x2="70.30" y2="370.50" stroke="#808080" stroke-width="1.0"/>
<line x1="67.90" y1="362.25" x2="72.70" y2="362.25" stroke="#808080" stroke-width="1.0"/>
<line x1="67.90" y1="370.50" x2="72.70" y2="370.50" stroke="#808080" stroke-width="1.0"/>
<polygon points="50.50,381.85 53.20,387.25 47.80,387.25" fill="#6a6a6a"/>
<polygon points="70.30,363.85 73.00,369.25 67.60,369.25" fill="#6a6a6a"/>
<polygon points="90.00,328.00 92.70,333.40 87.30,333.40" fill="#6a6a6a"/>
<polyline points="94,346.5 98.2,346.5 98.2,377.3 94,377.3" fill="none" stroke="#000" stroke-width="1.1"/>
<polygon points="102.20,356.00 102.85,357.31 104.29,357.52 103.25,358.54 103.49,359.98 102.20,359.30 100.91,359.98 101.15,358.54 100.11,357.52 101.55,357.31" fill="#484848"/>
<polygon points="102.20,360.60 102.85,361.91 104.29,362.12 103.25,363.14 103.49,364.58 102.20,363.90 100.91,364.58 101.15,363.14 100.11,362.12 101.55,361.91" fill="#484848"/>
<line x1="46.10" y1="277.50" x2="61.10" y2="277.50" stroke="#858585" stroke-width="1.2"/>
<circle cx="53.6" cy="277.50" r="2.1" fill="#fff" stroke="#555" stroke-width="1.2"/>
<text x="70.30" y="281.00" font-size="10.2" font-weight="bold" text-anchor="start" fill="#111" letter-spacing="0.8">Mock</text>
<line x1="46.10" y1="286.60" x2="61.10" y2="286.60" stroke="#baba1c" stroke-width="1.2"/>
<circle cx="53.60" cy="286.60" r="2.40" fill="#b4b400"/>
<text x="70.30" y="290.10" font-size="10.2" font-weight="bold" text-anchor="start" fill="#111">S</text>
<line x1="46.10" y1="296.40" x2="61.10" y2="296.40" stroke="#3a3aff" stroke-width="1.2"/>
<rect x="51.20" y="294.00" width="4.80" height="4.80" fill="#0000ff" stroke="none" stroke-width="0"/>
<text x="70.30" y="299.90" font-size="10.2" font-weight="bold" text-anchor="start" fill="#111">S+CWS</text>
<line x1="46.10" y1="306.10" x2="61.10" y2="306.10" stroke="#858585" stroke-width="1.2"/>
<polygon points="53.60,303.60 55.90,308.20 51.30,308.20" fill="#6a6a6a"/>
<text x="70.30" y="309.60" font-size="10.2" font-weight="bold" text-anchor="start" fill="#111" letter-spacing="0.5">Mock inf</text>
<text x="0.00" y="0.00" font-size="22" font-weight="bold" text-anchor="start" fill="#000" transform="translate(128.60 277.30) scale(1.0 1)">G</text>
<line x1="169.30" y1="286.15" x2="169.30" y2="400.55" stroke="#000" stroke-width="1.7"/>
<line x1="164.80" y1="399.70" x2="169.30" y2="399.70" stroke="#000" stroke-width="1.7"/>
<text x="163.00" y="403.10" font-size="9.6" font-weight="bold" text-anchor="end" fill="#1a1a1a">70</text>
<line x1="164.80" y1="385.61" x2="169.30" y2="385.61" stroke="#000" stroke-width="1.7"/>
<text x="163.00" y="389.01" font-size="9.6" font-weight="bold" text-anchor="end" fill="#1a1a1a">75</text>
<line x1="164.80" y1="371.52" x2="169.30" y2="371.52" stroke="#000" stroke-width="1.7"/>
<text x="163.00" y="374.92" font-size="9.6" font-weight="bold" text-anchor="end" fill="#1a1a1a">80</text>
<line x1="164.80" y1="357.44" x2="169.30" y2="357.44" stroke="#000" stroke-width="1.7"/>
<text x="163.00" y="360.84" font-size="9.6" font-weight="bold" text-anchor="end" fill="#1a1a1a">85</text>
<line x1="164.80" y1="343.35" x2="169.30" y2="343.35" stroke="#000" stroke-width="1.7"/>
<text x="163.00" y="346.75" font-size="9.6" font-weight="bold" text-anchor="end" fill="#1a1a1a">90</text>
<line x1="164.80" y1="329.26" x2="169.30" y2="329.26" stroke="#000" stroke-width="1.7"/>
<text x="163.00" y="332.66" font-size="9.6" font-weight="bold" text-anchor="end" fill="#1a1a1a">95</text>
<line x1="164.80" y1="315.18" x2="169.30" y2="315.18" stroke="#000" stroke-width="1.7"/>
<text x="163.00" y="318.57" font-size="9.6" font-weight="bold" text-anchor="end" fill="#1a1a1a">100</text>
<line x1="164.80" y1="301.09" x2="169.30" y2="301.09" stroke="#000" stroke-width="1.7"/>
<text x="163.00" y="304.49" font-size="9.6" font-weight="bold" text-anchor="end" fill="#1a1a1a">105</text>
<line x1="164.80" y1="287.00" x2="169.30" y2="287.00" stroke="#000" stroke-width="1.7"/>
<text x="163.00" y="290.40" font-size="9.6" font-weight="bold" text-anchor="end" fill="#1a1a1a">110</text>
<line x1="168.50" y1="399.70" x2="259.30" y2="399.70" stroke="#000" stroke-width="1.7"/>
<line x1="172.20" y1="399.70" x2="172.20" y2="403.60" stroke="#000" stroke-width="1.6"/>
<line x1="184.44" y1="399.70" x2="184.44" y2="403.60" stroke="#000" stroke-width="1.6"/>
<line x1="196.68" y1="399.70" x2="196.68" y2="403.60" stroke="#000" stroke-width="1.6"/>
<line x1="208.92" y1="399.70" x2="208.92" y2="403.60" stroke="#000" stroke-width="1.6"/>
<line x1="221.16" y1="399.70" x2="221.16" y2="403.60" stroke="#000" stroke-width="1.6"/>
<line x1="233.40" y1="399.70" x2="233.40" y2="403.60" stroke="#000" stroke-width="1.6"/>
<line x1="245.64" y1="399.70" x2="245.64" y2="403.60" stroke="#000" stroke-width="1.6"/>
<line x1="257.88" y1="399.70" x2="257.88" y2="403.60" stroke="#000" stroke-width="1.6"/>
<text x="0.00" y="0.00" font-size="10.2" font-weight="bold" text-anchor="middle" fill="#111" transform="translate(172.20 413.30) scale(0.92 1)">0</text>
<text x="0.00" y="0.00" font-size="10.2" font-weight="bold" text-anchor="middle" fill="#111" transform="translate(184.44 413.30) scale(0.92 1)">2</text>
<text x="0.00" y="0.00" font-size="10.2" font-weight="bold" text-anchor="middle" fill="#111" transform="translate(196.68 413.30) scale(0.92 1)">4</text>
<text x="0.00" y="0.00" font-size="10.2" font-weight="bold" text-anchor="middle" fill="#111" transform="translate(208.92 413.30) scale(0.92 1)">6</text>
<text x="0.00" y="0.00" font-size="10.2" font-weight="bold" text-anchor="middle" fill="#111" transform="translate(221.16 413.30) scale(0.92 1)">8</text>
<text x="0.00" y="0.00" font-size="10.2" font-weight="bold" text-anchor="middle" fill="#111" transform="translate(233.40 413.30) scale(0.92 1)">10</text>
<text x="0.00" y="0.00" font-size="10.2" font-weight="bold" text-anchor="middle" fill="#111" transform="translate(245.64 413.30) scale(0.92 1)">12</text>
<text x="0.00" y="0.00" font-size="10.2" font-weight="bold" text-anchor="middle" fill="#111" transform="translate(257.88 413.30) scale(0.92 1)">14</text>
<text x="215.40" y="425.00" font-size="11.1" font-weight="bold" text-anchor="middle" fill="#111">Day post infection</text>
<text x="0.00" y="0.00" font-size="11.2" font-weight="bold" text-anchor="middle" fill="#111" transform="translate(141.10 342.70) rotate(-90)">Body Weight (%)</text>
<polyline points="172.20,315.18 178.32,312.08 184.44,308.69 190.56,318.84 196.68,319.96 202.80,325.60 208.92,329.26 215.04,325.32 221.16,319.68 227.28,319.12 233.40,313.48 239.52,314.33 245.64,313.77 251.76,310.67 257.88,305.31" fill="none" stroke="#3a3aff" stroke-width="1.1"/>
<line x1="172.20" y1="314.33" x2="172.20" y2="316.02" stroke="#0000ff" stroke-width="1.0"/>
<line x1="170.00" y1="314.33" x2="174.40" y2="314.33" stroke="#0000ff" stroke-width="1.0"/>
<line x1="170.00" y1="316.02" x2="174.40" y2="316.02" stroke="#0000ff" stroke-width="1.0"/>
<line x1="178.32" y1="310.39" x2="178.32" y2="313.77" stroke="#0000ff" stroke-width="1.0"/>
<line x1="176.12" y1="310.39" x2="180.52" y2="310.39" stroke="#0000ff" stroke-width="1.0"/>
<line x1="176.12" y1="313.77" x2="180.52" y2="313.77" stroke="#0000ff" stroke-width="1.0"/>
<line x1="184.44" y1="307.00" x2="184.44" y2="310.39" stroke="#0000ff" stroke-width="1.0"/>
<line x1="182.24" y1="307.00" x2="186.64" y2="307.00" stroke="#0000ff" stroke-width="1.0"/>
<line x1="182.24" y1="310.39" x2="186.64" y2="310.39" stroke="#0000ff" stroke-width="1.0"/>
<line x1="190.56" y1="314.33" x2="190.56" y2="323.35" stroke="#0000ff" stroke-width="1.0"/>
<line x1="188.36" y1="314.33" x2="192.76" y2="314.33" stroke="#0000ff" stroke-width="1.0"/>
<line x1="188.36" y1="323.35" x2="192.76" y2="323.35" stroke="#0000ff" stroke-width="1.0"/>
<line x1="196.68" y1="313.20" x2="196.68" y2="326.73" stroke="#0000ff" stroke-width="1.0"/>
<line x1="194.48" y1="313.20" x2="198.88" y2="313.20" stroke="#0000ff" stroke-width="1.0"/>
<line x1="194.48" y1="326.73" x2="198.88" y2="326.73" stroke="#0000ff" stroke-width="1.0"/>
<line x1="202.80" y1="317.15" x2="202.80" y2="334.05" stroke="#0000ff" stroke-width="1.0"/>
<line x1="200.60" y1="317.15" x2="205.00" y2="317.15" stroke="#0000ff" stroke-width="1.0"/>
<line x1="200.60" y1="334.05" x2="205.00" y2="334.05" stroke="#0000ff" stroke-width="1.0"/>
<line x1="208.92" y1="319.12" x2="208.92" y2="339.41" stroke="#0000ff" stroke-width="1.0"/>
<line x1="206.72" y1="319.12" x2="211.12" y2="319.12" stroke="#0000ff" stroke-width="1.0"/>
<line x1="206.72" y1="339.41" x2="211.12" y2="339.41" stroke="#0000ff" stroke-width="1.0"/>
<line x1="215.04" y1="315.18" x2="215.04" y2="335.46" stroke="#0000ff" stroke-width="1.0"/>
<line x1="212.84" y1="315.18" x2="217.24" y2="315.18" stroke="#0000ff" stroke-width="1.0"/>
<line x1="212.84" y1="335.46" x2="217.24" y2="335.46" stroke="#0000ff" stroke-width="1.0"/>
<line x1="221.16" y1="311.23" x2="221.16" y2="328.14" stroke="#0000ff" stroke-width="1.0"/>
<line x1="218.96" y1="311.23" x2="223.36" y2="311.23" stroke="#0000ff" stroke-width="1.0"/>
<line x1="218.96" y1="328.14" x2="223.36" y2="328.14" stroke="#0000ff" stroke-width="1.0"/>
<line x1="227.28" y1="314.05" x2="227.28" y2="324.19" stroke="#0000ff" stroke-width="1.0"/>
<line x1="225.08" y1="314.05" x2="229.48" y2="314.05" stroke="#0000ff" stroke-width="1.0"/>
<line x1="225.08" y1="324.19" x2="229.48" y2="324.19" stroke="#0000ff" stroke-width="1.0"/>
<line x1="233.40" y1="308.69" x2="233.40" y2="318.27" stroke="#0000ff" stroke-width="1.0"/>
<line x1="231.20" y1="308.69" x2="235.60" y2="308.69" stroke="#0000ff" stroke-width="1.0"/>
<line x1="231.20" y1="318.27" x2="235.60" y2="318.27" stroke="#0000ff" stroke-width="1.0"/>
<line x1="239.52" y1="309.54" x2="239.52" y2="319.12" stroke="#0000ff" stroke-width="1.0"/>
<line x1="237.32" y1="309.54" x2="241.72" y2="309.54" stroke="#0000ff" stroke-width="1.0"/>
<line x1="237.32" y1="319.12" x2="241.72" y2="319.12" stroke="#0000ff" stroke-width="1.0"/>
<line x1="245.64" y1="310.10" x2="245.64" y2="317.43" stroke="#0000ff" stroke-width="1.0"/>
<line x1="243.44" y1="310.10" x2="247.84" y2="310.10" stroke="#0000ff" stroke-width="1.0"/>
<line x1="243.44" y1="317.43" x2="247.84" y2="317.43" stroke="#0000ff" stroke-width="1.0"/>
<line x1="251.76" y1="306.44" x2="251.76" y2="314.89" stroke="#0000ff" stroke-width="1.0"/>
<line x1="249.56" y1="306.44" x2="253.96" y2="306.44" stroke="#0000ff" stroke-width="1.0"/>
<line x1="249.56" y1="314.89" x2="253.96" y2="314.89" stroke="#0000ff" stroke-width="1.0"/>
<line x1="257.88" y1="301.09" x2="257.88" y2="309.54" stroke="#0000ff" stroke-width="1.0"/>
<line x1="255.68" y1="301.09" x2="260.08" y2="301.09" stroke="#0000ff" stroke-width="1.0"/>
<line x1="255.68" y1="309.54" x2="260.08" y2="309.54" stroke="#0000ff" stroke-width="1.0"/>
<rect x="169.65" y="312.62" width="5.10" height="5.10" fill="#0000ff" stroke="none" stroke-width="0"/>
<rect x="175.77" y="309.53" width="5.10" height="5.10" fill="#0000ff" stroke="none" stroke-width="0"/>
<rect x="181.89" y="306.14" width="5.10" height="5.10" fill="#0000ff" stroke="none" stroke-width="0"/>
<rect x="188.01" y="316.29" width="5.10" height="5.10" fill="#0000ff" stroke="none" stroke-width="0"/>
<rect x="194.13" y="317.41" width="5.10" height="5.10" fill="#0000ff" stroke="none" stroke-width="0"/>
<rect x="200.25" y="323.05" width="5.10" height="5.10" fill="#0000ff" stroke="none" stroke-width="0"/>
<rect x="206.37" y="326.71" width="5.10" height="5.10" fill="#0000ff" stroke="none" stroke-width="0"/>
<rect x="212.49" y="322.77" width="5.10" height="5.10" fill="#0000ff" stroke="none" stroke-width="0"/>
<rect x="218.61" y="317.13" width="5.10" height="5.10" fill="#0000ff" stroke="none" stroke-width="0"/>
<rect x="224.73" y="316.57" width="5.10" height="5.10" fill="#0000ff" stroke="none" stroke-width="0"/>
<rect x="230.85" y="310.93" width="5.10" height="5.10" fill="#0000ff" stroke="none" stroke-width="0"/>
<rect x="236.97" y="311.78" width="5.10" height="5.10" fill="#0000ff" stroke="none" stroke-width="0"/>
<rect x="243.09" y="311.22" width="5.10" height="5.10" fill="#0000ff" stroke="none" stroke-width="0"/>
<rect x="249.21" y="308.12" width="5.10" height="5.10" fill="#0000ff" stroke="none" stroke-width="0"/>
<rect x="255.33" y="302.76" width="5.10" height="5.10" fill="#0000ff" stroke="none" stroke-width="0"/>
<polyline points="172.20,315.18 178.32,316.58 184.44,315.18 190.56,323.63 196.68,332.08 202.80,336.31 208.92,350.96 215.04,368.71 221.16,376.88" fill="none" stroke="#baba1c" stroke-width="1.0"/>
<line x1="202.80" y1="333.49" x2="202.80" y2="339.12" stroke="#baba1c" stroke-width="1.0"/>
<line x1="200.60" y1="333.49" x2="205.00" y2="333.49" stroke="#baba1c" stroke-width="1.0"/>
<line x1="200.60" y1="339.12" x2="205.00" y2="339.12" stroke="#baba1c" stroke-width="1.0"/>
<line x1="208.92" y1="348.14" x2="208.92" y2="353.77" stroke="#baba1c" stroke-width="1.0"/>
<line x1="206.72" y1="348.14" x2="211.12" y2="348.14" stroke="#baba1c" stroke-width="1.0"/>
<line x1="206.72" y1="353.77" x2="211.12" y2="353.77" stroke="#baba1c" stroke-width="1.0"/>
<line x1="215.04" y1="365.89" x2="215.04" y2="371.52" stroke="#baba1c" stroke-width="1.0"/>
<line x1="212.84" y1="365.89" x2="217.24" y2="365.89" stroke="#baba1c" stroke-width="1.0"/>
<line x1="212.84" y1="371.52" x2="217.24" y2="371.52" stroke="#baba1c" stroke-width="1.0"/>
<line x1="221.16" y1="374.06" x2="221.16" y2="379.70" stroke="#baba1c" stroke-width="1.0"/>
<line x1="218.96" y1="374.06" x2="223.36" y2="374.06" stroke="#baba1c" stroke-width="1.0"/>
<line x1="218.96" y1="379.70" x2="223.36" y2="379.70" stroke="#baba1c" stroke-width="1.0"/>
<polygon points="172.20,312.38 175.00,315.18 172.20,317.98 169.40,315.18" fill="#c8c020"/>
<polygon points="178.32,313.78 181.12,316.58 178.32,319.38 175.52,316.58" fill="#c8c020"/>
<polygon points="184.44,312.38 187.24,315.18 184.44,317.98 181.64,315.18" fill="#c8c020"/>
<polygon points="190.56,320.83 193.36,323.63 190.56,326.43 187.76,323.63" fill="#c8c020"/>
<polygon points="196.68,329.28 199.48,332.08 196.68,334.88 193.88,332.08" fill="#c8c020"/>
<polygon points="202.80,333.51 205.60,336.31 202.80,339.11 200.00,336.31" fill="#c8c020"/>
<polygon points="208.92,348.16 211.72,350.96 208.92,353.76 206.12,350.96" fill="#c8c020"/>
<polygon points="215.04,365.91 217.84,368.71 215.04,371.51 212.24,368.71" fill="#c8c020"/>
<polygon points="221.16,374.08 223.96,376.88 221.16,379.68 218.36,376.88" fill="#c8c020"/>
<polyline points="172.20,315.18 178.32,319.40 184.44,315.18 190.56,322.22 196.68,329.26 202.80,332.64 208.92,345.89 215.04,364.20 221.16,371.81 227.28,373.50" fill="none" stroke="#858585" stroke-width="1.0"/>
<line x1="178.32" y1="315.18" x2="178.32" y2="323.63" stroke="#858585" stroke-width="1.0"/>
<line x1="176.12" y1="315.18" x2="180.52" y2="315.18" stroke="#858585" stroke-width="1.0"/>
<line x1="176.12" y1="323.63" x2="180.52" y2="323.63" stroke="#858585" stroke-width="1.0"/>
<line x1="196.68" y1="325.04" x2="196.68" y2="333.49" stroke="#858585" stroke-width="1.0"/>
<line x1="194.48" y1="325.04" x2="198.88" y2="325.04" stroke="#858585" stroke-width="1.0"/>
<line x1="194.48" y1="333.49" x2="198.88" y2="333.49" stroke="#858585" stroke-width="1.0"/>
<line x1="202.80" y1="328.42" x2="202.80" y2="336.87" stroke="#858585" stroke-width="1.0"/>
<line x1="200.60" y1="328.42" x2="205.00" y2="328.42" stroke="#858585" stroke-width="1.0"/>
<line x1="200.60" y1="336.87" x2="205.00" y2="336.87" stroke="#858585" stroke-width="1.0"/>
<line x1="208.92" y1="341.66" x2="208.92" y2="350.11" stroke="#858585" stroke-width="1.0"/>
<line x1="206.72" y1="341.66" x2="211.12" y2="341.66" stroke="#858585" stroke-width="1.0"/>
<line x1="206.72" y1="350.11" x2="211.12" y2="350.11" stroke="#858585" stroke-width="1.0"/>
<line x1="215.04" y1="359.97" x2="215.04" y2="368.43" stroke="#858585" stroke-width="1.0"/>
<line x1="212.84" y1="359.97" x2="217.24" y2="359.97" stroke="#858585" stroke-width="1.0"/>
<line x1="212.84" y1="368.43" x2="217.24" y2="368.43" stroke="#858585" stroke-width="1.0"/>
<line x1="221.16" y1="367.58" x2="221.16" y2="376.03" stroke="#858585" stroke-width="1.0"/>
<line x1="218.96" y1="367.58" x2="223.36" y2="367.58" stroke="#858585" stroke-width="1.0"/>
<line x1="218.96" y1="376.03" x2="223.36" y2="376.03" stroke="#858585" stroke-width="1.0"/>
<polygon points="172.20,312.07 175.10,317.88 169.30,317.88" fill="#606060"/>
<polygon points="178.32,316.30 181.22,322.10 175.42,322.10" fill="#606060"/>
<polygon points="184.44,312.07 187.34,317.88 181.54,317.88" fill="#606060"/>
<polygon points="190.56,319.12 193.46,324.92 187.66,324.92" fill="#606060"/>
<polygon points="196.68,326.16 199.58,331.96 193.78,331.96" fill="#606060"/>
<polygon points="202.80,329.54 205.70,335.34 199.90,335.34" fill="#606060"/>
<polygon points="208.92,342.79 211.82,348.59 206.02,348.59" fill="#606060"/>
<polygon points="215.04,361.10 217.94,366.90 212.14,366.90" fill="#606060"/>
<polygon points="221.16,368.71 224.06,374.51 218.26,374.51" fill="#606060"/>
<polygon points="227.28,370.40 230.18,376.20 224.38,376.20" fill="#606060"/>
<polyline points="172.20,315.18 178.32,315.18 184.44,315.18 190.56,325.04 196.68,333.49 202.80,339.97 208.92,355.47 215.04,374.62" fill="none" stroke="#20c088" stroke-width="1.3"/>
<line x1="190.56" y1="321.66" x2="190.56" y2="328.42" stroke="#20c088" stroke-width="1.0"/>
<line x1="188.36" y1="321.66" x2="192.76" y2="321.66" stroke="#20c088" stroke-width="1.0"/>
<line x1="188.36" y1="328.42" x2="192.76" y2="328.42" stroke="#20c088" stroke-width="1.0"/>
<line x1="196.68" y1="330.11" x2="196.68" y2="336.87" stroke="#20c088" stroke-width="1.0"/>
<line x1="194.48" y1="330.11" x2="198.88" y2="330.11" stroke="#20c088" stroke-width="1.0"/>
<line x1="194.48" y1="336.87" x2="198.88" y2="336.87" stroke="#20c088" stroke-width="1.0"/>
<line x1="202.80" y1="336.59" x2="202.80" y2="343.35" stroke="#20c088" stroke-width="1.0"/>
<line x1="200.60" y1="336.59" x2="205.00" y2="336.59" stroke="#20c088" stroke-width="1.0"/>
<line x1="200.60" y1="343.35" x2="205.00" y2="343.35" stroke="#20c088" stroke-width="1.0"/>
<line x1="208.92" y1="352.08" x2="208.92" y2="358.85" stroke="#20c088" stroke-width="1.0"/>
<line x1="206.72" y1="352.08" x2="211.12" y2="352.08" stroke="#20c088" stroke-width="1.0"/>
<line x1="206.72" y1="358.85" x2="211.12" y2="358.85" stroke="#20c088" stroke-width="1.0"/>
<line x1="215.04" y1="371.24" x2="215.04" y2="378.01" stroke="#20c088" stroke-width="1.0"/>
<line x1="212.84" y1="371.24" x2="217.24" y2="371.24" stroke="#20c088" stroke-width="1.0"/>
<line x1="212.84" y1="378.01" x2="217.24" y2="378.01" stroke="#20c088" stroke-width="1.0"/>
<polygon points="172.20,318.28 175.10,312.48 169.30,312.48" fill="#20c088"/>
<polygon points="178.32,318.28 181.22,312.48 175.42,312.48" fill="#20c088"/>
<polygon points="184.44,318.28 187.34,312.48 181.54,312.48" fill="#20c088"/>
<polygon points="190.56,328.14 193.46,322.34 187.66,322.34" fill="#20c088"/>
<polygon points="196.68,336.59 199.58,330.79 193.78,330.79" fill="#20c088"/>
<polygon points="202.80,343.07 205.70,337.27 199.90,337.27" fill="#20c088"/>
<polygon points="208.92,358.57 211.82,352.77 206.02,352.77" fill="#20c088"/>
<polygon points="215.04,377.72 217.94,371.92 212.14,371.92" fill="#20c088"/>
<polygon points="214.10,304.80 214.81,306.23 216.38,306.46 215.24,307.57 215.51,309.14 214.10,308.40 212.69,309.14 212.96,307.57 211.82,306.46 213.39,306.23" fill="#1a1a1a"/>
<polygon points="220.80,290.90 221.48,292.27 222.99,292.49 221.89,293.56 222.15,295.06 220.80,294.35 219.45,295.06 219.71,293.56 218.61,292.49 220.12,292.27" fill="#383838"/>
<polygon points="220.80,295.90 221.48,297.27 222.99,297.49 221.89,298.56 222.15,300.06 220.80,299.35 219.45,300.06 219.71,298.56 218.61,297.49 220.12,297.27" fill="#383838"/>
<polygon points="220.80,300.90 221.48,302.27 222.99,302.49 221.89,303.56 222.15,305.06 220.80,304.35 219.45,305.06 219.71,303.56 218.61,302.49 220.12,302.27" fill="#383838"/>
<polygon points="227.00,290.90 227.68,292.27 229.19,292.49 228.09,293.56 228.35,295.06 227.00,294.35 225.65,295.06 225.91,293.56 224.81,292.49 226.32,292.27" fill="#383838"/>
<polygon points="227.00,295.90 227.68,297.27 229.19,297.49 228.09,298.56 228.35,300.06 227.00,299.35 225.65,300.06 225.91,298.56 224.81,297.49 226.32,297.27" fill="#383838"/>
<polygon points="227.00,300.90 227.68,302.27 229.19,302.49 228.09,303.56 228.35,305.06 227.00,304.35 225.65,305.06 225.91,303.56 224.81,302.49 226.32,302.27" fill="#383838"/>
<line x1="300.60" y1="284.19" x2="300.60" y2="400.85" stroke="#000" stroke-width="1.7"/>
<line x1="296.10" y1="400.00" x2="300.60" y2="400.00" stroke="#000" stroke-width="1.7"/>
<text x="294.30" y="403.40" font-size="9.6" font-weight="bold" text-anchor="end" fill="#1a1a1a">0</text>
<line x1="296.10" y1="380.84" x2="300.60" y2="380.84" stroke="#000" stroke-width="1.7"/>
<text x="294.30" y="384.24" font-size="9.6" font-weight="bold" text-anchor="end" fill="#1a1a1a">20</text>
<line x1="296.10" y1="361.68" x2="300.60" y2="361.68" stroke="#000" stroke-width="1.7"/>
<text x="294.30" y="365.08" font-size="9.6" font-weight="bold" text-anchor="end" fill="#1a1a1a">40</text>
<line x1="296.10" y1="342.52" x2="300.60" y2="342.52" stroke="#000" stroke-width="1.7"/>
<text x="294.30" y="345.92" font-size="9.6" font-weight="bold" text-anchor="end" fill="#1a1a1a">60</text>
<line x1="296.10" y1="323.36" x2="300.60" y2="323.36" stroke="#000" stroke-width="1.7"/>
<text x="294.30" y="326.76" font-size="9.6" font-weight="bold" text-anchor="end" fill="#1a1a1a">80</text>
<line x1="296.10" y1="304.20" x2="300.60" y2="304.20" stroke="#000" stroke-width="1.7"/>
<text x="294.30" y="307.60" font-size="9.6" font-weight="bold" text-anchor="end" fill="#1a1a1a">100</text>
<line x1="296.10" y1="285.04" x2="300.60" y2="285.04" stroke="#000" stroke-width="1.7"/>
<text x="294.30" y="288.44" font-size="9.6" font-weight="bold" text-anchor="end" fill="#1a1a1a">120</text>
<line x1="299.80" y1="399.70" x2="392.40" y2="399.70" stroke="#000" stroke-width="1.7"/>
<line x1="300.60" y1="399.70" x2="300.60" y2="403.60" stroke="#000" stroke-width="1.6"/>
<line x1="313.66" y1="399.70" x2="313.66" y2="403.60" stroke="#000" stroke-width="1.6"/>
<line x1="326.72" y1="399.70" x2="326.72" y2="403.60" stroke="#000" stroke-width="1.6"/>
<line x1="339.78" y1="399.70" x2="339.78" y2="403.60" stroke="#000" stroke-width="1.6"/>
<line x1="352.84" y1="399.70" x2="352.84" y2="403.60" stroke="#000" stroke-width="1.6"/>
<line x1="365.90" y1="399.70" x2="365.90" y2="403.60" stroke="#000" stroke-width="1.6"/>
<line x1="378.96" y1="399.70" x2="378.96" y2="403.60" stroke="#000" stroke-width="1.6"/>
<line x1="392.02" y1="399.70" x2="392.02" y2="403.60" stroke="#000" stroke-width="1.6"/>
<text x="0.00" y="0.00" font-size="10.2" font-weight="bold" text-anchor="middle" fill="#111" transform="translate(300.60 413.30) scale(0.92 1)">0</text>
<text x="0.00" y="0.00" font-size="10.2" font-weight="bold" text-anchor="middle" fill="#111" transform="translate(313.66 413.30) scale(0.92 1)">2</text>
<text x="0.00" y="0.00" font-size="10.2" font-weight="bold" text-anchor="middle" fill="#111" transform="translate(326.72 413.30) scale(0.92 1)">4</text>
<text x="0.00" y="0.00" font-size="10.2" font-weight="bold" text-anchor="middle" fill="#111" transform="translate(339.78 413.30) scale(0.92 1)">6</text>
<text x="0.00" y="0.00" font-size="10.2" font-weight="bold" text-anchor="middle" fill="#111" transform="translate(352.84 413.30) scale(0.92 1)">8</text>
<text x="0.00" y="0.00" font-size="10.2" font-weight="bold" text-anchor="middle" fill="#111" transform="translate(365.90 413.30) scale(0.92 1)">10</text>
<text x="0.00" y="0.00" font-size="10.2" font-weight="bold" text-anchor="middle" fill="#111" transform="translate(378.96 413.30) scale(0.92 1)">12</text>
<text x="0.00" y="0.00" font-size="10.2" font-weight="bold" text-anchor="middle" fill="#111" transform="translate(392.02 413.30) scale(0.92 1)">14</text>
<text x="347.30" y="425.00" font-size="11.1" font-weight="bold" text-anchor="middle" fill="#111">Day post infection</text>
<text x="0.00" y="0.00" font-size="11.2" font-weight="bold" text-anchor="middle" fill="#111" transform="translate(274.70 341.40) rotate(-90)">Survival rate (%)</text>
<polyline points="300.60,304.20 392.02,304.20" fill="none" stroke="#3a3aff" stroke-width="1.2"/>
<rect x="304.63" y="301.70" width="5.00" height="5.00" fill="#0000ff" stroke="none" stroke-width="0"/>
<rect x="311.16" y="301.70" width="5.00" height="5.00" fill="#0000ff" stroke="none" stroke-width="0"/>
<rect x="317.69" y="301.70" width="5.00" height="5.00" fill="#0000ff" stroke="none" stroke-width="0"/>
<rect x="324.22" y="301.70" width="5.00" height="5.00" fill="#0000ff" stroke="none" stroke-width="0"/>
<rect x="330.75" y="301.70" width="5.00" height="5.00" fill="#0000ff" stroke="none" stroke-width="0"/>
<rect x="337.28" y="301.70" width="5.00" height="5.00" fill="#0000ff" stroke="none" stroke-width="0"/>
<rect x="343.81" y="301.70" width="5.00" height="5.00" fill="#0000ff" stroke="none" stroke-width="0"/>
<rect x="350.34" y="301.70" width="5.00" height="5.00" fill="#0000ff" stroke="none" stroke-width="0"/>
<rect x="356.87" y="301.70" width="5.00" height="5.00" fill="#0000ff" stroke="none" stroke-width="0"/>
<rect x="363.40" y="301.70" width="5.00" height="5.00" fill="#0000ff" stroke="none" stroke-width="0"/>
<rect x="369.93" y="301.70" width="5.00" height="5.00" fill="#0000ff" stroke="none" stroke-width="0"/>
<rect x="376.46" y="301.70" width="5.00" height="5.00" fill="#0000ff" stroke="none" stroke-width="0"/>
<rect x="382.99" y="301.70" width="5.00" height="5.00" fill="#0000ff" stroke="none" stroke-width="0"/>
<rect x="389.52" y="301.70" width="5.00" height="5.00" fill="#0000ff" stroke="none" stroke-width="0"/>
<polyline points="300.60,304.20 346.31,304.20 346.31,328.15 352.84,328.15 352.84,400.00" fill="none" stroke="#baba1c" stroke-width="1.3"/>
<circle cx="346.31" cy="328.15" r="2.50" fill="#b8b020"/>
<polygon points="352.84,397.10 355.74,400.00 352.84,402.90 349.94,400.00" fill="#b8b020"/>
<polyline points="300.60,304.20 352.84,304.20 352.84,336.10 359.37,336.10 359.37,400.00" fill="none" stroke="#858585" stroke-width="1.3"/>
<rect x="343.81" y="301.70" width="5.00" height="5.00" fill="#3a3a70" stroke="none" stroke-width="0"/>
<polygon points="352.84,333.20 355.54,338.60 350.14,338.60" fill="#6a6a6a"/>
<polygon points="359.37,397.10 362.07,402.50 356.67,402.50" fill="#6a6a6a"/>
<polyline points="300.60,304.20 346.31,304.20 346.31,400.00" fill="none" stroke="#20c088" stroke-width="1.3"/>
<rect x="304.63" y="301.70" width="5.00" height="5.00" fill="#24a888" stroke="none" stroke-width="0"/>
<rect x="311.16" y="301.70" width="5.00" height="5.00" fill="#24a888" stroke="none" stroke-width="0"/>
<rect x="317.69" y="301.70" width="5.00" height="5.00" fill="#24a888" stroke="none" stroke-width="0"/>
<rect x="324.22" y="301.70" width="5.00" height="5.00" fill="#24a888" stroke="none" stroke-width="0"/>
<rect x="330.75" y="301.70" width="5.00" height="5.00" fill="#24a888" stroke="none" stroke-width="0"/>
<rect x="337.28" y="301.70" width="5.00" height="5.00" fill="#24a888" stroke="none" stroke-width="0"/>
<polygon points="307.13,307.00 309.73,301.80 304.53,301.80" fill="#22bb88"/>
<polygon points="313.66,307.00 316.26,301.80 311.06,301.80" fill="#22bb88"/>
<polygon points="320.19,307.00 322.79,301.80 317.59,301.80" fill="#22bb88"/>
<polygon points="326.72,307.00 329.32,301.80 324.12,301.80" fill="#22bb88"/>
<polygon points="333.25,307.00 335.85,301.80 330.65,301.80" fill="#22bb88"/>
<polygon points="339.78,307.00 342.38,301.80 337.18,301.80" fill="#22bb88"/>
<polygon points="346.31,403.10 349.21,397.30 343.41,397.30" fill="#20c088"/>
<line x1="362.30" y1="343.90" x2="379.10" y2="343.90" stroke="#baba1c" stroke-width="1.2"/>
<polygon points="370.90,340.90 373.90,343.90 370.90,346.90 367.90,343.90" fill="#b8b020"/>
<text x="388.00" y="347.90" font-size="10.6" font-weight="bold" text-anchor="start" fill="#111">S</text>
<line x1="362.30" y1="356.10" x2="379.10" y2="356.10" stroke="#3a3aff" stroke-width="1.2"/>
<rect x="368.50" y="353.70" width="4.80" height="4.80" fill="#0000ff" stroke="none" stroke-width="0"/>
<text x="388.00" y="360.10" font-size="10.6" font-weight="bold" text-anchor="start" fill="#111" letter-spacing="0.3">S+CWS</text>
<line x1="362.30" y1="368.90" x2="379.10" y2="368.90" stroke="#20c088" stroke-width="1.2"/>
<polygon points="370.90,371.90 373.70,366.30 368.10,366.30" fill="#20c088"/>
<text x="388.00" y="372.90" font-size="10.6" font-weight="bold" text-anchor="start" fill="#111" letter-spacing="0.5">CWS</text>
<line x1="362.30" y1="381.50" x2="379.10" y2="381.50" stroke="#858585" stroke-width="1.2"/>
<polygon points="370.90,378.50 373.70,384.10 368.10,384.10" fill="#6a6a6a"/>
<text x="388.00" y="385.50" font-size="10.6" font-weight="bold" text-anchor="start" fill="#111" letter-spacing="0.6">Mock inf</text>
<text x="0.00" y="0.00" font-size="22" font-weight="bold" text-anchor="start" fill="#000" transform="translate(440.80 282.70) scale(1.08 1)">H</text>
<text x="509.30" y="286.30" font-size="14" font-weight="bold" text-anchor="middle" fill="#000">Virus titers</text>
<line x1="476.50" y1="300.65" x2="476.50" y2="400.35" stroke="#000" stroke-width="1.7"/>
<line x1="472.00" y1="399.50" x2="476.50" y2="399.50" stroke="#000" stroke-width="1.7"/>
<text x="470.50" y="403.00" font-size="10" font-weight="normal" text-anchor="end" fill="#111" stroke="#111" stroke-width="0.2">0</text>
<line x1="472.00" y1="379.90" x2="476.50" y2="379.90" stroke="#000" stroke-width="1.7"/>
<text x="470.50" y="383.40" font-size="10" font-weight="normal" text-anchor="end" fill="#111" stroke="#111" stroke-width="0.2">2</text>
<line x1="472.00" y1="360.30" x2="476.50" y2="360.30" stroke="#000" stroke-width="1.7"/>
<text x="470.50" y="363.80" font-size="10" font-weight="normal" text-anchor="end" fill="#111" stroke="#111" stroke-width="0.2">4</text>
<line x1="472.00" y1="340.70" x2="476.50" y2="340.70" stroke="#000" stroke-width="1.7"/>
<text x="470.50" y="344.20" font-size="10" font-weight="normal" text-anchor="end" fill="#111" stroke="#111" stroke-width="0.2">6</text>
<line x1="472.00" y1="321.10" x2="476.50" y2="321.10" stroke="#000" stroke-width="1.7"/>
<text x="470.50" y="324.60" font-size="10" font-weight="normal" text-anchor="end" fill="#111" stroke="#111" stroke-width="0.2">8</text>
<line x1="472.00" y1="301.50" x2="476.50" y2="301.50" stroke="#000" stroke-width="1.7"/>
<text x="470.50" y="305.00" font-size="10" font-weight="normal" text-anchor="end" fill="#111" stroke="#111" stroke-width="0.2">10</text>
<line x1="475.70" y1="399.50" x2="543.00" y2="399.50" stroke="#000" stroke-width="1.7"/>
<line x1="488.00" y1="399.50" x2="488.00" y2="403.50" stroke="#000" stroke-width="1.7"/>
<line x1="509.60" y1="399.50" x2="509.60" y2="403.50" stroke="#000" stroke-width="1.7"/>
<line x1="531.30" y1="399.50" x2="531.30" y2="403.50" stroke="#000" stroke-width="1.7"/>
<line x1="488.00" y1="326.49" x2="488.00" y2="328.45" stroke="#000" stroke-width="1.3"/>
<line x1="484.40" y1="326.49" x2="491.60" y2="326.49" stroke="#000" stroke-width="1.6"/>
<rect x="482.00" y="328.45" width="12.00" height="71.05" fill="#a5a5ad" stroke="#000" stroke-width="1.5"/>
<line x1="509.60" y1="330.90" x2="509.60" y2="337.27" stroke="#000" stroke-width="1.3"/>
<line x1="506.00" y1="330.90" x2="513.20" y2="330.90" stroke="#000" stroke-width="1.6"/>
<rect x="503.60" y="337.27" width="12.00" height="62.23" fill="#c8c000" stroke="#000" stroke-width="1.5"/>
<line x1="531.30" y1="380.39" x2="531.30" y2="386.76" stroke="#000" stroke-width="1.3"/>
<line x1="527.70" y1="380.39" x2="534.90" y2="380.39" stroke="#000" stroke-width="1.6"/>
<rect x="525.30" y="386.76" width="12.00" height="12.74" fill="#0000ff" stroke="#000" stroke-width="1.5"/>
<line x1="488.00" y1="321.00" x2="533.50" y2="321.00" stroke="#666" stroke-width="1.1"/>
<line x1="508.00" y1="318.40" x2="533.50" y2="318.40" stroke="#666" stroke-width="1.1"/>
<polygon points="516.30,311.00 516.95,312.31 518.39,312.52 517.35,313.54 517.59,314.98 516.30,314.30 515.01,314.98 515.25,313.54 514.21,312.52 515.65,312.31" fill="#484848"/>
<polygon points="521.00,311.00 521.65,312.31 523.09,312.52 522.05,313.54 522.29,314.98 521.00,314.30 519.71,314.98 519.95,313.54 518.91,312.52 520.35,312.31" fill="#484848"/>
<polygon points="525.70,311.00 526.35,312.31 527.79,312.52 526.75,313.54 526.99,314.98 525.70,314.30 524.41,314.98 524.65,313.54 523.61,312.52 525.05,312.31" fill="#484848"/>
<g transform="translate(455.6 351) rotate(-90)"><text x="0" y="0" font-size="11" font-weight="bold" text-anchor="middle" fill="#111">Log<tspan font-size="7.5" dy="1.8">10</tspan><tspan dy="-1.8"> EID</tspan><tspan font-size="7.5" dy="1.8">50</tspan><tspan dy="-1.8"> / 0.2 mL</tspan></text></g>
<text x="0.00" y="0.00" font-size="9.5" font-weight="bold" text-anchor="end" fill="#111" letter-spacing="0.4" transform="translate(491.50 410.50) rotate(-45)">Mock</text>
<text x="0.00" y="0.00" font-size="9.5" font-weight="bold" text-anchor="end" fill="#111" letter-spacing="0.4" transform="translate(513.10 410.50) rotate(-45)">S</text>
<text x="0.00" y="0.00" font-size="9.5" font-weight="bold" text-anchor="end" fill="#111" letter-spacing="0.4" transform="translate(534.80 410.50) rotate(-45)">S+CWS</text>
</svg></body></html>
